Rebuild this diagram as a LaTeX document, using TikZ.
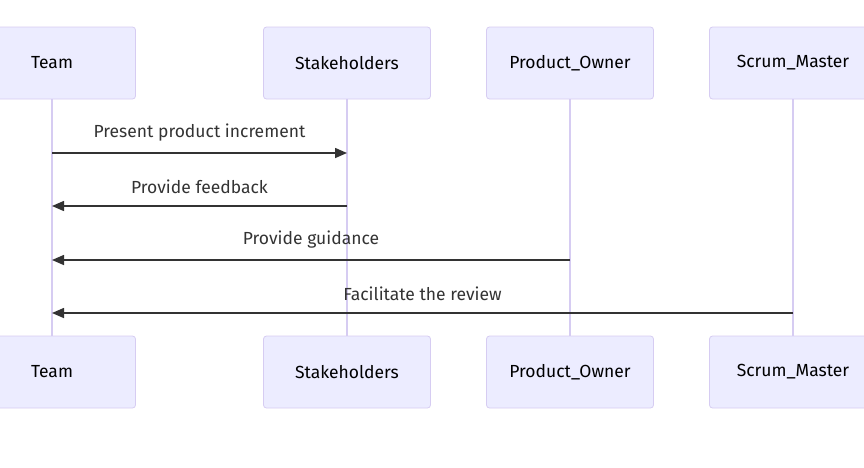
\documentclass[tikz,border=0pt]{standalone}
\usepackage{fontspec}
\setmainfont{Fira Sans}
\usetikzlibrary{positioning,arrows.meta}
\definecolor{actorfill}{HTML}{ECECFF}
\definecolor{actorline}{HTML}{D6CCF2}
\definecolor{msgline}{HTML}{333333}
\tikzset{
  actor/.style={rectangle, draw=actorline, fill=actorfill, rounded corners=3pt, line width=0.8pt, minimum height=72pt, minimum width=167pt, font=\fontsize{17.5}{20}\selectfont},
  lifeline/.style={draw=actorline, line width=1.5pt},
  msg/.style={draw=msgline, line width=1.5pt, -{Triangle[length=12pt,width=10pt]}},
  msglabel/.style={midway, above=8pt, text=msgline, font=\fontsize{17.5}{20}\selectfont}
}
\begin{document}
\begin{tikzpicture}[x=1pt, y=-1pt]
  \useasboundingbox (0,0) rectangle (864,467);
  \begin{scope}
  \clip (0,0) rectangle (864,467);
  % Nodes
  \node (t0) [actor] at (52, 63) {Team};
  \node (s0) [actor] at (347, 63) {Stakeholders};
  \node (p0) [actor] at (570, 63) {Product\_Owner};
  \node (m0) [actor] at (793, 63) {Scrum\_Master};
  \node (t1) [actor] at (52, 372) {Team};
  \node (s1) [actor] at (347, 372) {Stakeholders};
  \node (p1) [actor] at (570, 372) {Product\_Owner};
  \node (m1) [actor] at (793, 372) {Scrum\_Master};
  % Lifelines
  \draw[lifeline] (t0) -- (t1);
  \draw[lifeline] (s0) -- (s1);
  \draw[lifeline] (p0) -- (p1);
  \draw[lifeline] (m0) -- (m1);
  % Anchors
  \coordinate (a1) at (t0 |- 0,153);
  \coordinate (b1) at (s0 |- 0,153);
  \coordinate (a2) at (t0 |- 0,206);
  \coordinate (b2) at (s0 |- 0,206);
  \coordinate (a3) at (t0 |- 0,260);
  \coordinate (b3) at (p0 |- 0,260);
  \coordinate (a4) at (t0 |- 0,313);
  \coordinate (b4) at (m0 |- 0,313);
  % Arrow
  \draw[msg] (a1) to node[msglabel] {Present product increment} (b1);
  \draw[msg] (b2) to node[msglabel] {Provide feedback} (a2);
  \draw[msg] (b3) to node[msglabel] {Provide guidance} (a3);
  \draw[msg] (b4) to node[msglabel] {Facilitate the review} (a4);
  \end{scope}
\end{tikzpicture}
\end{document}
